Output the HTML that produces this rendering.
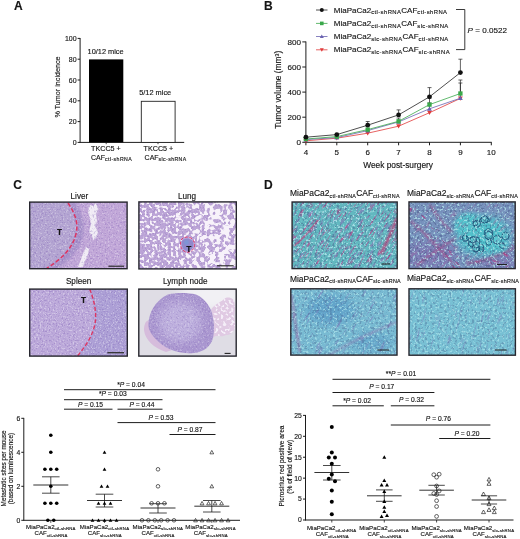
<!DOCTYPE html><html><head><meta charset="utf-8"><title>Figure</title><style>html,body{margin:0;padding:0;background:#fff}svg{display:block}text{font-family:"Liberation Sans",sans-serif;fill:#141414;stroke:#141414;stroke-width:0.14px}</style></head><body>
<svg width="520" height="539" viewBox="0 0 520 539">
<rect width="520" height="539" fill="#fff"/>
<defs>
<filter id="heW" x="0" y="0" width="100%" height="100%" color-interpolation-filters="sRGB"><feTurbulence type="fractalNoise" baseFrequency="0.6" numOctaves="2" seed="3"/><feColorMatrix type="matrix" values="0 0 0 0 1  0 0 0 0 1  0 0 0 0 1  5 0 0 0 -2.7"/></filter>
<filter id="heD" x="0" y="0" width="100%" height="100%" color-interpolation-filters="sRGB"><feTurbulence type="fractalNoise" baseFrequency="0.55" numOctaves="2" seed="12"/><feColorMatrix type="matrix" values="0 0 0 0 0.45  0 0 0 0 0.33  0 0 0 0 0.68  0 5 0 0 -2.7"/></filter>
<filter id="holeS" x="0" y="0" width="100%" height="100%" color-interpolation-filters="sRGB"><feTurbulence type="fractalNoise" baseFrequency="0.38" numOctaves="1" seed="4"/><feColorMatrix type="matrix" values="0 0 0 0 0.97  0 0 0 0 0.95  0 0 0 0 0.98  10 0 0 0 -5.3"/></filter>
<filter id="fibM" x="0" y="0" width="100%" height="100%" color-interpolation-filters="sRGB"><feTurbulence type="fractalNoise" baseFrequency="0.09 0.6" numOctaves="2" seed="5"/><feColorMatrix type="matrix" values="0 0 0 0 0.7  0 0 0 0 0.34  0 0 0 0 0.58  7 0 0 0 -4.0"/></filter>
<filter id="fibM2" x="0" y="0" width="100%" height="100%" color-interpolation-filters="sRGB"><feTurbulence type="fractalNoise" baseFrequency="0.08 0.55" numOctaves="2" seed="21"/><feColorMatrix type="matrix" values="0 0 0 0 0.72  0 0 0 0 0.25  0 0 0 0 0.52  7 0 0 0 -4.2"/></filter>
<filter id="fibB" x="0" y="0" width="100%" height="100%" color-interpolation-filters="sRGB"><feTurbulence type="fractalNoise" baseFrequency="0.1 0.55" numOctaves="2" seed="9"/><feColorMatrix type="matrix" values="0 0 0 0 0.5  0 0 0 0 0.5  0 0 0 0 0.72  0 7 0 0 -3.85"/></filter>
<filter id="fibP" x="0" y="0" width="100%" height="100%" color-interpolation-filters="sRGB"><feTurbulence type="fractalNoise" baseFrequency="0.06 0.45" numOctaves="2" seed="14"/><feColorMatrix type="matrix" values="0 0 0 0 0.5  0 0 0 0 0.45  0 0 0 0 0.72  0 6 0 0 -3.6"/></filter>
<filter id="spk" x="0" y="0" width="100%" height="100%" color-interpolation-filters="sRGB"><feTurbulence type="fractalNoise" baseFrequency="0.45" numOctaves="2" seed="2"/><feColorMatrix type="matrix" values="0 0 0 0 0.72  0 0 0 0 0.93  0 0 0 0 0.94  0 0 6 0 -3.3"/></filter>
<filter id="dkB" x="0" y="0" width="100%" height="100%" color-interpolation-filters="sRGB"><feTurbulence type="fractalNoise" baseFrequency="0.4" numOctaves="2" seed="17"/><feColorMatrix type="matrix" values="0 0 0 0 0.24  0 0 0 0 0.32  0 0 0 0 0.5  7 0 0 0 -3.8"/></filter>
<filter id="b1"><feGaussianBlur stdDeviation="1"/></filter><filter id="b2"><feGaussianBlur stdDeviation="2.2"/></filter><filter id="b3"><feGaussianBlur stdDeviation="4"/></filter><filter id="b05"><feGaussianBlur stdDeviation="0.5"/></filter>
<filter id="holeG" x="0" y="0" width="100%" height="100%" color-interpolation-filters="sRGB"><feTurbulence type="fractalNoise" baseFrequency="0.2" numOctaves="1" seed="8"/><feColorMatrix type="matrix" values="0 1 0 0 0  0 1 0 0 0  0 1 0 0 0  0 0 0 0 1" result="n"/><feComposite in="n" in2="SourceGraphic" operator="arithmetic" k1="0" k2="1" k3="1" k4="-0.5"/><feColorMatrix type="matrix" values="0 0 0 0 0.97  0 0 0 0 0.95  0 0 0 0 0.98  14 0 0 0 -7"/></filter>
<linearGradient id="gb" x1="0" x2="1" y1="0" y2="0"><stop offset="0" stop-color="#4c4c4c"/><stop offset="0.35" stop-color="#626262"/><stop offset="0.7" stop-color="#808080"/><stop offset="1" stop-color="#868686"/></linearGradient>
</defs>
<text x="14.1" y="9.8" font-size="12" text-anchor="start" font-weight="bold" fill="#000">A</text>
<text x="263.9" y="9.8" font-size="12" text-anchor="start" font-weight="bold" fill="#000">B</text>
<text x="13.2" y="188.8" font-size="12" text-anchor="start" font-weight="bold" fill="#000">C</text>
<text x="263.9" y="188.8" font-size="12" text-anchor="start" font-weight="bold" fill="#000">D</text>
<line x1="80.1" y1="38.0" x2="80.1" y2="142.8" stroke="#1c1c1c" stroke-width="1.0"/>
<line x1="79.69999999999999" y1="142.4" x2="184.2" y2="142.4" stroke="#1c1c1c" stroke-width="1.0"/>
<line x1="106.2" y1="142.4" x2="106.2" y2="144.20000000000002" stroke="#1c1c1c" stroke-width="0.8"/>
<line x1="158" y1="142.4" x2="158" y2="144.20000000000002" stroke="#1c1c1c" stroke-width="0.8"/>
<line x1="77.6" y1="142.4" x2="80.1" y2="142.4" stroke="#1c1c1c" stroke-width="1.0"/>
<text x="76.6" y="144.9" font-size="7" text-anchor="end" >0</text>
<line x1="77.6" y1="121.60000000000001" x2="80.1" y2="121.60000000000001" stroke="#1c1c1c" stroke-width="1.0"/>
<text x="76.6" y="124.10000000000001" font-size="7" text-anchor="end" >20</text>
<line x1="77.6" y1="100.80000000000001" x2="80.1" y2="100.80000000000001" stroke="#1c1c1c" stroke-width="1.0"/>
<text x="76.6" y="103.30000000000001" font-size="7" text-anchor="end" >40</text>
<line x1="77.6" y1="80.0" x2="80.1" y2="80.0" stroke="#1c1c1c" stroke-width="1.0"/>
<text x="76.6" y="82.5" font-size="7" text-anchor="end" >60</text>
<line x1="77.6" y1="59.2" x2="80.1" y2="59.2" stroke="#1c1c1c" stroke-width="1.0"/>
<text x="76.6" y="61.7" font-size="7" text-anchor="end" >80</text>
<line x1="77.6" y1="38.400000000000006" x2="80.1" y2="38.400000000000006" stroke="#1c1c1c" stroke-width="1.0"/>
<text x="76.6" y="40.900000000000006" font-size="7" text-anchor="end" >100</text>
<rect x="89" y="59.4" width="34.3" height="83.0" fill="#000"/>
<rect x="141.3" y="101.3" width="33.8" height="41.10000000000001" fill="#fff" stroke="#222" stroke-width="0.9"/>
<text x="105.6" y="53.8" font-size="7.4" text-anchor="middle" >10/12 mice</text>
<text x="155.2" y="94.9" font-size="7.4" text-anchor="middle" >5/12 mice</text>
<text x="91" y="151" font-size="7.2" text-anchor="start" >TKCC5 +</text>
<text x="143.5" y="151" font-size="7.2" text-anchor="start" >TKCC5 +</text>
<text x="91" y="159.6" font-size="7" text-anchor="start" >CAF<tspan font-size="5.2" dy="1.6" letter-spacing="0.42">ctl-shRNA</tspan></text>
<text x="144.6" y="159.6" font-size="7" text-anchor="start" >CAF<tspan font-size="5.2" dy="1.6" letter-spacing="0.38">slc-shRNA</tspan></text>
<text transform="translate(60.3,87) rotate(-90)" font-size="7.2" text-anchor="middle">% Tumor incidence</text>
<line x1="305.9" y1="41.50000000000001" x2="305.9" y2="142.70000000000002" stroke="#1c1c1c" stroke-width="1.0"/>
<line x1="305.5" y1="142.3" x2="491.69999999999993" y2="142.3" stroke="#1c1c1c" stroke-width="1.0"/>
<line x1="302.29999999999995" y1="142.3" x2="305.9" y2="142.3" stroke="#1c1c1c" stroke-width="1.0"/>
<text x="300.9" y="145.15" font-size="8.1" text-anchor="end" >0</text>
<line x1="302.29999999999995" y1="117.20000000000002" x2="305.9" y2="117.20000000000002" stroke="#1c1c1c" stroke-width="1.0"/>
<text x="300.9" y="120.05000000000001" font-size="8.1" text-anchor="end" >200</text>
<line x1="302.29999999999995" y1="92.10000000000001" x2="305.9" y2="92.10000000000001" stroke="#1c1c1c" stroke-width="1.0"/>
<text x="300.9" y="94.95" font-size="8.1" text-anchor="end" >400</text>
<line x1="302.29999999999995" y1="67.0" x2="305.9" y2="67.0" stroke="#1c1c1c" stroke-width="1.0"/>
<text x="300.9" y="69.85" font-size="8.1" text-anchor="end" >600</text>
<line x1="302.29999999999995" y1="41.900000000000006" x2="305.9" y2="41.900000000000006" stroke="#1c1c1c" stroke-width="1.0"/>
<text x="300.9" y="44.75000000000001" font-size="8.1" text-anchor="end" >800</text>
<line x1="305.9" y1="142.3" x2="305.9" y2="145.3" stroke="#1c1c1c" stroke-width="1.0"/>
<text x="305.9" y="155.0" font-size="8.0" text-anchor="middle" >4</text>
<line x1="336.79999999999995" y1="142.3" x2="336.79999999999995" y2="145.3" stroke="#1c1c1c" stroke-width="1.0"/>
<text x="336.79999999999995" y="155.0" font-size="8.0" text-anchor="middle" >5</text>
<line x1="367.7" y1="142.3" x2="367.7" y2="145.3" stroke="#1c1c1c" stroke-width="1.0"/>
<text x="367.7" y="155.0" font-size="8.0" text-anchor="middle" >6</text>
<line x1="398.59999999999997" y1="142.3" x2="398.59999999999997" y2="145.3" stroke="#1c1c1c" stroke-width="1.0"/>
<text x="398.59999999999997" y="155.0" font-size="8.0" text-anchor="middle" >7</text>
<line x1="429.5" y1="142.3" x2="429.5" y2="145.3" stroke="#1c1c1c" stroke-width="1.0"/>
<text x="429.5" y="155.0" font-size="8.0" text-anchor="middle" >8</text>
<line x1="460.4" y1="142.3" x2="460.4" y2="145.3" stroke="#1c1c1c" stroke-width="1.0"/>
<text x="460.4" y="155.0" font-size="8.0" text-anchor="middle" >9</text>
<line x1="491.29999999999995" y1="142.3" x2="491.29999999999995" y2="145.3" stroke="#1c1c1c" stroke-width="1.0"/>
<text x="491.29999999999995" y="155.0" font-size="8.0" text-anchor="middle" >10</text>
<text x="398.09999999999997" y="168" font-size="8.35" text-anchor="middle" >Week post-surgery</text>
<text transform="translate(281.2,89.8) rotate(-90)" font-size="8.4" text-anchor="middle">Tumor volume (mm<tspan font-size="5.2" dy="-2.6">3</tspan><tspan dy="2.6">)</tspan></text>
<polyline points="305.9,140.8 336.8,138.2 367.7,133.2 398.6,126.2 429.5,112.7 460.4,98.4" fill="none" stroke="#e03a3a" stroke-width="0.8"/>
<polygon points="305.9,143.20000000000002 308.29999999999995,138.88000000000002 303.5,138.88000000000002" fill="#e03a3a"/>
<polygon points="336.79999999999995,140.6 339.19999999999993,136.28 334.4,136.28" fill="#e03a3a"/>
<polygon points="367.7,135.6 370.09999999999997,131.28 365.3,131.28" fill="#e03a3a"/>
<polygon points="398.59999999999997,128.6 400.99999999999994,124.28 396.2,124.28" fill="#e03a3a"/>
<polygon points="429.5,115.10000000000001 431.9,110.78 427.1,110.78" fill="#e03a3a"/>
<polygon points="460.4,100.80000000000001 462.79999999999995,96.48 458.0,96.48" fill="#e03a3a"/>
<polyline points="305.9,139.6 336.8,137.6 367.7,130.6 398.6,121.9 429.5,108.8 460.4,98.2" fill="none" stroke="#6a62b0" stroke-width="0.8"/>
<line x1="429.5" y1="108.8" x2="429.5" y2="103" stroke="#222" stroke-width="0.7"/>
<line x1="427.5" y1="103" x2="431.5" y2="103" stroke="#222" stroke-width="0.7"/>
<line x1="460.4" y1="98.2" x2="460.4" y2="83" stroke="#222" stroke-width="0.7"/>
<line x1="458.4" y1="83" x2="462.4" y2="83" stroke="#222" stroke-width="0.7"/>
<polygon points="305.9,137.2 308.29999999999995,141.51999999999998 303.5,141.51999999999998" fill="#6a62b0"/>
<polygon points="336.79999999999995,135.2 339.19999999999993,139.51999999999998 334.4,139.51999999999998" fill="#6a62b0"/>
<polygon points="367.7,128.2 370.09999999999997,132.51999999999998 365.3,132.51999999999998" fill="#6a62b0"/>
<polygon points="398.59999999999997,119.5 400.99999999999994,123.82000000000001 396.2,123.82000000000001" fill="#6a62b0"/>
<polygon points="429.5,106.39999999999999 431.9,110.72 427.1,110.72" fill="#6a62b0"/>
<polygon points="460.4,95.8 462.79999999999995,100.12 458.0,100.12" fill="#6a62b0"/>
<polyline points="305.9,139.0 336.8,136.6 367.7,129.6 398.6,121.3 429.5,104.6 460.4,93.5" fill="none" stroke="#3aa84a" stroke-width="0.8"/>
<line x1="398.59999999999997" y1="121.3" x2="398.59999999999997" y2="118" stroke="#222" stroke-width="0.7"/>
<line x1="396.59999999999997" y1="118" x2="400.59999999999997" y2="118" stroke="#222" stroke-width="0.7"/>
<line x1="429.5" y1="104.6" x2="429.5" y2="98" stroke="#222" stroke-width="0.7"/>
<line x1="427.5" y1="98" x2="431.5" y2="98" stroke="#222" stroke-width="0.7"/>
<line x1="460.4" y1="93.5" x2="460.4" y2="80" stroke="#222" stroke-width="0.7"/>
<line x1="458.4" y1="80" x2="462.4" y2="80" stroke="#222" stroke-width="0.7"/>
<rect x="303.73999999999995" y="136.84" width="4.32" height="4.32" fill="#3aa84a"/>
<rect x="334.63999999999993" y="134.44" width="4.32" height="4.32" fill="#3aa84a"/>
<rect x="365.53999999999996" y="127.44" width="4.32" height="4.32" fill="#3aa84a"/>
<rect x="396.43999999999994" y="119.14" width="4.32" height="4.32" fill="#3aa84a"/>
<rect x="427.34" y="102.44" width="4.32" height="4.32" fill="#3aa84a"/>
<rect x="458.23999999999995" y="91.34" width="4.32" height="4.32" fill="#3aa84a"/>
<polyline points="305.9,137.2 336.8,134.6 367.7,125.2 398.6,114.9 429.5,96.8 460.4,72.6" fill="none" stroke="#222" stroke-width="0.8"/>
<line x1="367.7" y1="125.2" x2="367.7" y2="121.5" stroke="#222" stroke-width="0.7"/>
<line x1="365.7" y1="121.5" x2="369.7" y2="121.5" stroke="#222" stroke-width="0.7"/>
<line x1="398.59999999999997" y1="114.9" x2="398.59999999999997" y2="109.9" stroke="#222" stroke-width="0.7"/>
<line x1="396.59999999999997" y1="109.9" x2="400.59999999999997" y2="109.9" stroke="#222" stroke-width="0.7"/>
<line x1="429.5" y1="96.8" x2="429.5" y2="87.6" stroke="#222" stroke-width="0.7"/>
<line x1="427.5" y1="87.6" x2="431.5" y2="87.6" stroke="#222" stroke-width="0.7"/>
<line x1="460.4" y1="72.6" x2="460.4" y2="59.2" stroke="#222" stroke-width="0.7"/>
<line x1="458.4" y1="59.2" x2="462.4" y2="59.2" stroke="#222" stroke-width="0.7"/>
<circle cx="305.9" cy="137.2" r="2.4" fill="#111"/>
<circle cx="336.79999999999995" cy="134.6" r="2.4" fill="#111"/>
<circle cx="367.7" cy="125.2" r="2.4" fill="#111"/>
<circle cx="398.59999999999997" cy="114.9" r="2.4" fill="#111"/>
<circle cx="429.5" cy="96.8" r="2.4" fill="#111"/>
<circle cx="460.4" cy="72.6" r="2.4" fill="#111"/>
<line x1="316" y1="10" x2="327.5" y2="10" stroke="#222" stroke-width="0.8"/>
<circle cx="321.8" cy="10" r="2.0" fill="#111"/>
<text x="333.8" y="12.6" font-size="8.0" text-anchor="start" >MiaPaCa2<tspan font-size="5.9" dy="1.8" letter-spacing="0.4">ctl-shRNA</tspan><tspan font-size="8.0" dy="-1.8">CAF</tspan><tspan font-size="5.9" dy="1.8" letter-spacing="0.4">ctl-shRNA</tspan></text>
<line x1="316" y1="23.4" x2="327.5" y2="23.4" stroke="#3aa84a" stroke-width="0.8"/>
<rect x="320.0" y="21.599999999999998" width="3.6" height="3.6" fill="#3aa84a"/>
<text x="333.8" y="26.0" font-size="8.0" text-anchor="start" >MiaPaCa2<tspan font-size="5.9" dy="1.8" letter-spacing="0.4">ctl-shRNA</tspan><tspan font-size="8.0" dy="-1.8">CAF</tspan><tspan font-size="5.9" dy="1.8" letter-spacing="0.4">slc-shRNA</tspan></text>
<line x1="316" y1="36.5" x2="327.5" y2="36.5" stroke="#6a62b0" stroke-width="0.8"/>
<polygon points="321.8,34.5 323.8,38.1 319.8,38.1" fill="#6a62b0"/>
<text x="333.8" y="39.1" font-size="8.0" text-anchor="start" >MiaPaCa2<tspan font-size="5.9" dy="1.8" letter-spacing="0.4">slc-shRNA</tspan><tspan font-size="8.0" dy="-1.8">CAF</tspan><tspan font-size="5.9" dy="1.8" letter-spacing="0.4">ctl-shRNA</tspan></text>
<line x1="316" y1="49.8" x2="327.5" y2="49.8" stroke="#e03a3a" stroke-width="0.8"/>
<polygon points="321.8,51.8 323.8,48.199999999999996 319.8,48.199999999999996" fill="#e03a3a"/>
<text x="333.8" y="52.4" font-size="8.0" text-anchor="start" >MiaPaCa2<tspan font-size="5.9" dy="1.8" letter-spacing="0.4">slc-shRNA</tspan><tspan font-size="8.0" dy="-1.8">CAF</tspan><tspan font-size="5.9" dy="1.8" letter-spacing="0.4">slc-shRNA</tspan></text>
<polyline points="456,9.5 464.8,9.5 464.8,49.6 456,49.6" fill="none" stroke="#222" stroke-width="0.9"/>
<text x="467.5" y="32.6" font-size="8.1" text-anchor="start" ><tspan font-style="italic">P</tspan> = 0.0522</text>
<clipPath id="cL"><rect x="29.7" y="202.1" width="97.4" height="66.6"/></clipPath>
<g clip-path="url(#cL)">
<rect x="29.7" y="202.1" width="97.4" height="66.6" fill="#c1a7d8"/>
<path d="M30,202 L68,202 C74,212 79,222 76,234 C72,250 60,260 47,270 L30,270 Z" fill="#b4a5d2"/>
<path d="M68,202 C74,212 79,222 76,234 C72,250 60,260 47,270 L56,270 C70,260 80,250 83,234 C85,220 80,210 76,202 Z" fill="#a893cb" filter="url(#b1)"/>
<path d="M90,205 L93,206 L96,203 L98,209 L96,214 L97,221 L95,226 L98,232 L96,238 L93,240 L92,235 L89,232 L91,224 L90,218 L88,212 Z" fill="#f0ebf5" filter="url(#b05)"/>
<path d="M86,247 L89,249 L88,254 L86,259 L84,263 L83,267 L78,267 L80,262 L82,256 Z" fill="#f0ebf5" filter="url(#b05)"/>
<rect x="29.7" y="202.1" width="97.4" height="66.6" filter="url(#heD)" opacity="0.3"/>
<rect x="29.7" y="202.1" width="97.4" height="66.6" filter="url(#heW)" opacity="0.3"/>
<path d="M68,203 C74,212 79,222 76,234 C72,250 60,260 47,268" fill="none" stroke="#dc3562" stroke-width="1.5" stroke-dasharray="4.2 2.2"/>
</g>
<rect x="29.7" y="202.1" width="97.4" height="66.6" fill="none" stroke="#26262e" stroke-width="1.4"/>
<text x="59.6" y="235" font-size="8.2" text-anchor="middle" font-weight="bold" fill="#111">T</text>
<line x1="108.4" y1="266.2" x2="124" y2="266.2" stroke="#222" stroke-width="1.1"/>
<text x="79.4" y="198.8" font-size="8.15" text-anchor="middle" >Liver</text>
<clipPath id="cLu"><rect x="138.9" y="201.9" width="97.4" height="67"/></clipPath>
<g clip-path="url(#cLu)">
<rect x="138.9" y="201.9" width="97.4" height="67" fill="#bca5d7"/>
<rect x="138.9" y="201.9" width="97.4" height="67" filter="url(#heD)" opacity="0.25"/>
<rect x="138.9" y="201.9" width="97.4" height="67" filter="url(#holeS)"/>
<rect x="138.9" y="201.9" width="97.4" height="67" fill="url(#gb)" filter="url(#holeG)"/>
<circle cx="187.3" cy="244.8" r="7" fill="#bca5d7"/>
<path d="M182,241 C184,237.5 190,237.5 192.5,241 C194.5,245 193,250 188,251 C183.5,251 180.5,246 182,241 Z" fill="#8f89cc"/>
<circle cx="186.5" cy="242.5" r="2.4" fill="#7f94d4"/>
<path d="M181,240 C183.5,236 191,236 193.5,240.5 C196,245 194,251.5 188,252.3 C183,252.3 179,247 181,240 Z" fill="none" stroke="#e23d6b" stroke-width="1" stroke-dasharray="3 1.6"/>
</g>
<rect x="138.9" y="201.9" width="97.4" height="67" fill="none" stroke="#26262e" stroke-width="1.4"/>
<text x="188.8" y="251.6" font-size="8.4" text-anchor="middle" font-weight="bold" fill="#0a0a30">T</text>
<line x1="217" y1="265.8" x2="233.6" y2="265.8" stroke="#222" stroke-width="1.1"/>
<text x="187" y="198.8" font-size="8.15" text-anchor="middle" >Lung</text>
<clipPath id="cS"><rect x="29.7" y="289.1" width="97.6" height="67"/></clipPath>
<g clip-path="url(#cS)">
<rect x="29.7" y="289.1" width="97.6" height="67" fill="#ada0d6"/>
<path d="M29,288 L89.7,288 C94,300 97,312 95,324 C92,338 84,348 77,357 L29,357 Z" fill="#bca9da"/>
<rect x="29.7" y="289.1" width="97.6" height="67" filter="url(#heD)" opacity="0.3"/>
<rect x="29.7" y="289.1" width="97.6" height="67" filter="url(#heW)" opacity="0.35"/>
<path d="M89.7,289 C94,300 97,312 95,324 C92,338 84,348 77,356.5" fill="none" stroke="#dc3562" stroke-width="1.4" stroke-dasharray="4 2.2"/>
</g>
<rect x="29.7" y="289.1" width="97.6" height="67" fill="none" stroke="#26262e" stroke-width="1.4"/>
<text x="83.6" y="302.6" font-size="8.2" text-anchor="middle" font-weight="bold" fill="#111">T</text>
<line x1="107.4" y1="352.7" x2="124" y2="352.7" stroke="#333" stroke-width="1.3"/>
<text x="78.6" y="284.3" font-size="8.15" text-anchor="middle" >Spleen</text>
<clipPath id="cN"><rect x="138.8" y="289.1" width="97.4" height="67"/></clipPath>
<clipPath id="cNode"><path d="M148.4,324 C149,312 156,300 168,294.5 C176,292.5 188,292.5 196,294.5 C203,297 208,304 211,310 C214,318 215,330 213,338 C211,346 204,352 194,353 C182,354.5 168,350 160,343 C152,336 148,330 148.4,324 Z"/></clipPath><clipPath id="cPink"><path d="M211,310 C214,304 220,303 224,299 C228,296 235,298 234.5,304 C236,310 233,316 235,322 C236,330 231,336 226,335 C221,338 216,334 213,338 C215,330 214,318 211,310 Z"/></clipPath>
<g clip-path="url(#cN)">
<rect x="138.8" y="289.1" width="97.4" height="67" fill="#dfdde5"/>
<ellipse cx="212" cy="296" rx="34" ry="14" fill="#f1f0f4" filter="url(#b3)"/>
<path d="M144,330 C144,322 148,318 150,322 C152,334 160,344 172,350 L166,352 C154,348 145,340 144,330 Z" fill="#d6bcdc" filter="url(#b05)"/>
<path d="M211,310 C214,304 220,303 224,299 C228,296 235,298 234.5,304 C236,310 233,316 235,322 C236,330 231,336 226,335 C221,338 216,334 213,338 C215,330 214,318 211,310 Z" fill="#e0cae3" filter="url(#b05)"/>
<rect x="208" y="294" width="30" height="46" filter="url(#holeS)" clip-path="url(#cPink)" opacity="0.9"/>
<path d="M148.4,324 C149,312 156,300 168,294.5 C176,292.5 188,292.5 196,294.5 C203,297 208,304 211,310 C214,318 215,330 213,338 C211,346 204,352 194,353 C182,354.5 168,350 160,343 C152,336 148,330 148.4,324 Z" fill="#aa97d0"/>
<ellipse cx="180" cy="322" rx="21" ry="20" fill="#beb0de" filter="url(#b3)"/>
<rect x="146" y="290" width="72" height="66" filter="url(#heD)" opacity="0.25" clip-path="url(#cNode)"/>
<rect x="146" y="290" width="72" height="66" filter="url(#heW)" opacity="0.25" clip-path="url(#cNode)"/>
</g>
<rect x="138.8" y="289.1" width="97.4" height="67" fill="none" stroke="#26262e" stroke-width="1.4"/>
<line x1="224.6" y1="353.4" x2="230.6" y2="353.4" stroke="#222" stroke-width="1.1"/>
<text x="185.3" y="284.2" font-size="8.15" text-anchor="middle" >Lymph node</text>
<clipPath id="cD1"><rect x="292.1" y="202" width="105.1" height="66.6"/></clipPath>
<g clip-path="url(#cD1)">
<rect x="292.1" y="202" width="105.1" height="66.6" fill="#62b8c0"/>
<rect x="254.65000000000003" y="145.3" width="180" height="180" filter="url(#fibB)" opacity="0.75" transform="rotate(-58 344.65000000000003 235.3)"/>
<rect x="254.65000000000003" y="145.3" width="180" height="180" filter="url(#fibM)" opacity="0.85" transform="rotate(-56 344.65000000000003 235.3)"/>
<path d="M397,218 C392,232 388,240 381,254" stroke="#c93a78" stroke-width="3.4" fill="none" opacity="0.8" filter="url(#b1)"/>
<path d="M294,246 C304,238 312,228 318,220" stroke="#c2467f" stroke-width="2" fill="none" opacity="0.7" filter="url(#b05)"/>
<rect x="292.1" y="202" width="105.1" height="66.6" filter="url(#dkB)" opacity="0.4"/>
<rect x="292.1" y="202" width="105.1" height="66.6" filter="url(#spk)" opacity="0.75"/>
</g>
<rect x="292.1" y="202" width="105.1" height="66.6" fill="none" stroke="#26262e" stroke-width="1.4"/>
<line x1="381.5" y1="264" x2="390" y2="264" stroke="#222" stroke-width="1.0"/>
<text x="290" y="196" font-size="8.45" text-anchor="start" >MiaPaCa2<tspan font-size="5.4" dy="1.8" letter-spacing="0.28">ctl-shRNA</tspan><tspan font-size="8.45" dy="-1.8">CAF</tspan><tspan font-size="5.4" dy="1.8" letter-spacing="0.28">ctl-shRNA</tspan></text>
<clipPath id="cD2"><rect x="409" y="201.9" width="106.2" height="66.7"/></clipPath>
<clipPath id="cD2b"><path d="M408,215 L452,268 L516,270 L516,240 L500,256 L470,262 L450,240 L425,214 L408,203 Z"/></clipPath>
<g clip-path="url(#cD2)">
<rect x="409" y="201.9" width="106.2" height="66.7" fill="#7893be"/>
<ellipse cx="430" cy="255" rx="26" ry="14" fill="#7f78b4" filter="url(#b3)" opacity="0.8"/>
<ellipse cx="500" cy="262" rx="22" ry="9" fill="#7f78b4" filter="url(#b3)" opacity="0.7"/>
<ellipse cx="483" cy="236" rx="27" ry="20" fill="#4fbfca" filter="url(#b3)"/>
<ellipse cx="468" cy="224" rx="14" ry="11" fill="#52c2cc" filter="url(#b2)"/><ellipse cx="496" cy="246" rx="13" ry="8" fill="#52c2cc" filter="url(#b2)" opacity="0.8"/>
<g clip-path="url(#cD2b)">
<rect x="372.1" y="145.25" width="180" height="180" filter="url(#fibM2)" opacity="0.8" transform="rotate(45 462.1 235.25)"/>
</g>
<rect x="372.1" y="145.25" width="180" height="180" filter="url(#fibM)" opacity="0.3" transform="rotate(-50 462.1 235.25)"/>
<circle cx="476.9" cy="223.7" r="3.6" fill="#6ad2d8" fill-opacity="0.5" stroke="#17466e" stroke-width="0.9" opacity="0.9"/>
<circle cx="465.3" cy="238.4" r="2.9" fill="#6ad2d8" fill-opacity="0.5" stroke="#17466e" stroke-width="0.9" opacity="0.9"/>
<circle cx="464.7" cy="237.3" r="2.1" fill="#6ad2d8" fill-opacity="0.5" stroke="#17466e" stroke-width="0.9" opacity="0.9"/>
<circle cx="481.9" cy="220.7" r="2.2" fill="#6ad2d8" fill-opacity="0.5" stroke="#17466e" stroke-width="0.9" opacity="0.9"/>
<circle cx="481.5" cy="249.4" r="2.3" fill="#6ad2d8" fill-opacity="0.5" stroke="#17466e" stroke-width="0.9" opacity="0.9"/>
<circle cx="472.3" cy="241.8" r="4.3" fill="#6ad2d8" fill-opacity="0.5" stroke="#17466e" stroke-width="0.9" opacity="0.9"/>
<circle cx="488.5" cy="233.1" r="4.3" fill="#6ad2d8" fill-opacity="0.5" stroke="#17466e" stroke-width="0.9" opacity="0.9"/>
<circle cx="475.3" cy="223.5" r="2.3" fill="#6ad2d8" fill-opacity="0.5" stroke="#17466e" stroke-width="0.9" opacity="0.9"/>
<circle cx="476.2" cy="249.0" r="2.4" fill="#6ad2d8" fill-opacity="0.5" stroke="#17466e" stroke-width="0.9" opacity="0.9"/>
<circle cx="488.8" cy="242.3" r="2.9" fill="#6ad2d8" fill-opacity="0.5" stroke="#17466e" stroke-width="0.9" opacity="0.9"/>
<circle cx="487.2" cy="220.4" r="2.1" fill="#6ad2d8" fill-opacity="0.5" stroke="#17466e" stroke-width="0.9" opacity="0.9"/>
<circle cx="471.5" cy="243.9" r="3.0" fill="#6ad2d8" fill-opacity="0.5" stroke="#17466e" stroke-width="0.9" opacity="0.9"/>
<circle cx="476.5" cy="240.3" r="3.1" fill="#6ad2d8" fill-opacity="0.5" stroke="#17466e" stroke-width="0.9" opacity="0.9"/>
<circle cx="475.8" cy="248.2" r="3.7" fill="#6ad2d8" fill-opacity="0.5" stroke="#17466e" stroke-width="0.9" opacity="0.9"/>
<circle cx="473.2" cy="239.8" r="3.3" fill="#6ad2d8" fill-opacity="0.5" stroke="#17466e" stroke-width="0.9" opacity="0.9"/>
<circle cx="502.3" cy="245.7" r="2.7" fill="#6ad2d8" fill-opacity="0.5" stroke="#17466e" stroke-width="0.9" opacity="0.9"/>
<circle cx="481.2" cy="246.8" r="2.4" fill="#6ad2d8" fill-opacity="0.5" stroke="#17466e" stroke-width="0.9" opacity="0.9"/>
<circle cx="484.5" cy="219.5" r="3.6" fill="#6ad2d8" fill-opacity="0.5" stroke="#17466e" stroke-width="0.9" opacity="0.9"/>
<circle cx="497.2" cy="239.8" r="4.1" fill="#6ad2d8" fill-opacity="0.5" stroke="#17466e" stroke-width="0.9" opacity="0.9"/>
<circle cx="476.4" cy="244.4" r="3.4" fill="#6ad2d8" fill-opacity="0.5" stroke="#17466e" stroke-width="0.9" opacity="0.9"/>
<circle cx="488.7" cy="235.3" r="4.0" fill="#6ad2d8" fill-opacity="0.5" stroke="#17466e" stroke-width="0.9" opacity="0.9"/>
<circle cx="505.5" cy="236.0" r="3.6" fill="#6ad2d8" fill-opacity="0.5" stroke="#17466e" stroke-width="0.9" opacity="0.9"/>
<path d="M410,221 C420,228 432,240 452,263 M416,266 C428,256 440,248 456,238 M466,264 C480,262 496,258 514,248 M430,205 C436,214 440,222 452,232" stroke="#a84884" stroke-width="2.2" fill="none" opacity="0.6" filter="url(#b1)"/>
<rect x="409" y="201.9" width="106.2" height="66.7" filter="url(#dkB)" opacity="0.42"/>
<rect x="409" y="201.9" width="106.2" height="66.7" filter="url(#spk)" opacity="0.7"/>
</g>
<rect x="409" y="201.9" width="106.2" height="66.7" fill="none" stroke="#26262e" stroke-width="1.4"/>
<line x1="497" y1="264.5" x2="507" y2="264.5" stroke="#222" stroke-width="1.0"/>
<text x="407" y="196" font-size="8.45" text-anchor="start" >MiaPaCa2<tspan font-size="5.4" dy="1.8" letter-spacing="0.28">slc-shRNA</tspan><tspan font-size="8.45" dy="-1.8">CAF</tspan><tspan font-size="5.4" dy="1.8" letter-spacing="0.28">ctl-shRNA</tspan></text>
<clipPath id="cD3"><rect x="290.8" y="288.8" width="106.2" height="66.3"/></clipPath>
<g clip-path="url(#cD3)">
<rect x="290.8" y="288.8" width="106.2" height="66.3" fill="#78bad2"/>
<ellipse cx="330" cy="310" rx="24" ry="15" fill="#5a9cc8" filter="url(#b3)" opacity="0.7"/>
<ellipse cx="372" cy="342" rx="20" ry="10" fill="#5a9cc8" filter="url(#b3)" opacity="0.5"/>
<rect x="253.90000000000003" y="231.95" width="180" height="180" filter="url(#fibP)" opacity="0.55" transform="rotate(-60 343.90000000000003 321.95)"/>
<path d="M291,294 C294,310 296,330 300,352" stroke="#a868a4" stroke-width="2.6" fill="none" opacity="0.55" filter="url(#b1)"/>
<path d="M328,356 C345,345 365,335 397,322" stroke="#a070ac" stroke-width="2.2" fill="none" opacity="0.45" filter="url(#b1)"/>
<rect x="290.8" y="288.8" width="106.2" height="66.3" filter="url(#dkB)" opacity="0.3"/>
<rect x="290.8" y="288.8" width="106.2" height="66.3" filter="url(#spk)" opacity="0.6"/>
</g>
<rect x="290.8" y="288.8" width="106.2" height="66.3" fill="none" stroke="#26262e" stroke-width="1.4"/>
<line x1="377.4" y1="350" x2="389" y2="350" stroke="#222" stroke-width="1.0"/>
<text x="289.9" y="281.5" font-size="8.45" text-anchor="start" >MiaPaCa2<tspan font-size="5.4" dy="1.8" letter-spacing="0.28">ctl-shRNA</tspan><tspan font-size="8.45" dy="-1.8">CAF</tspan><tspan font-size="5.4" dy="1.8" letter-spacing="0.28">slc-shRNA</tspan></text>
<clipPath id="cD4"><rect x="409" y="288.8" width="106.4" height="66.4"/></clipPath>
<g clip-path="url(#cD4)">
<rect x="409" y="288.8" width="106.4" height="66.4" fill="#78c0d4"/>
<rect x="372.2" y="232.0" width="180" height="180" filter="url(#fibP)" opacity="0.45" transform="rotate(-75 462.2 322.0)"/>
<rect x="409" y="288.8" width="106.4" height="66.4" filter="url(#dkB)" opacity="0.3"/>
<rect x="409" y="288.8" width="106.4" height="66.4" filter="url(#spk)" opacity="0.6"/>
</g>
<rect x="409" y="288.8" width="106.4" height="66.4" fill="none" stroke="#26262e" stroke-width="1.4"/>
<line x1="495" y1="350" x2="506.6" y2="350" stroke="#222" stroke-width="1.0"/>
<text x="407" y="281" font-size="8.45" text-anchor="start" >MiaPaCa2<tspan font-size="5.4" dy="1.8" letter-spacing="0.28">slc-shRNA</tspan><tspan font-size="8.45" dy="-1.8">CAF</tspan><tspan font-size="5.4" dy="1.8" letter-spacing="0.28">slc-shRNA</tspan></text>
<line x1="23.8" y1="417.9" x2="23.8" y2="520.6999999999999" stroke="#1c1c1c" stroke-width="1.0"/>
<line x1="23.400000000000002" y1="520.3" x2="240" y2="520.3" stroke="#1c1c1c" stroke-width="1.0"/>
<line x1="21.3" y1="520.3" x2="23.8" y2="520.3" stroke="#1c1c1c" stroke-width="1.0"/>
<text x="20.2" y="522.6999999999999" font-size="6.8" text-anchor="end" >0</text>
<line x1="21.3" y1="486.29999999999995" x2="23.8" y2="486.29999999999995" stroke="#1c1c1c" stroke-width="1.0"/>
<text x="20.2" y="488.69999999999993" font-size="6.8" text-anchor="end" >2</text>
<line x1="21.3" y1="452.29999999999995" x2="23.8" y2="452.29999999999995" stroke="#1c1c1c" stroke-width="1.0"/>
<text x="20.2" y="454.69999999999993" font-size="6.8" text-anchor="end" >4</text>
<line x1="21.3" y1="418.29999999999995" x2="23.8" y2="418.29999999999995" stroke="#1c1c1c" stroke-width="1.0"/>
<text x="20.2" y="420.69999999999993" font-size="6.8" text-anchor="end" >6</text>
<text transform="translate(6.2,468.4) rotate(-90)" font-size="6.4" text-anchor="middle">Metastatic sites per mouse</text>
<text transform="translate(13.2,468.6) rotate(-90)" font-size="6.4" text-anchor="middle">(based on luminescence)</text>
<line x1="50.8" y1="520.3" x2="50.8" y2="522.8" stroke="#1c1c1c" stroke-width="0.8"/>
<line x1="104.5" y1="520.3" x2="104.5" y2="522.8" stroke="#1c1c1c" stroke-width="0.8"/>
<line x1="158" y1="520.3" x2="158" y2="522.8" stroke="#1c1c1c" stroke-width="0.8"/>
<line x1="211.8" y1="520.3" x2="211.8" y2="522.8" stroke="#1c1c1c" stroke-width="0.8"/>
<line x1="33.3" y1="485" x2="68.3" y2="485" stroke="#1c1c1c" stroke-width="0.9"/>
<line x1="50.8" y1="476.8" x2="50.8" y2="493.2" stroke="#1c1c1c" stroke-width="0.8"/>
<line x1="42.0" y1="476.8" x2="59.599999999999994" y2="476.8" stroke="#1c1c1c" stroke-width="0.8"/>
<line x1="42.0" y1="493.2" x2="59.599999999999994" y2="493.2" stroke="#1c1c1c" stroke-width="0.8"/>
<line x1="87.0" y1="500.5" x2="122.0" y2="500.5" stroke="#1c1c1c" stroke-width="0.9"/>
<line x1="104.5" y1="494.2" x2="104.5" y2="507" stroke="#1c1c1c" stroke-width="0.8"/>
<line x1="95.7" y1="494.2" x2="113.3" y2="494.2" stroke="#1c1c1c" stroke-width="0.8"/>
<line x1="95.7" y1="507" x2="113.3" y2="507" stroke="#1c1c1c" stroke-width="0.8"/>
<line x1="140.5" y1="508" x2="175.5" y2="508" stroke="#1c1c1c" stroke-width="0.9"/>
<line x1="158" y1="503.7" x2="158" y2="513" stroke="#1c1c1c" stroke-width="0.8"/>
<line x1="149.2" y1="503.7" x2="166.8" y2="503.7" stroke="#1c1c1c" stroke-width="0.8"/>
<line x1="149.2" y1="513" x2="166.8" y2="513" stroke="#1c1c1c" stroke-width="0.8"/>
<line x1="194.3" y1="506.2" x2="229.3" y2="506.2" stroke="#1c1c1c" stroke-width="0.9"/>
<line x1="211.8" y1="500.5" x2="211.8" y2="512" stroke="#1c1c1c" stroke-width="0.8"/>
<line x1="203.0" y1="500.5" x2="220.60000000000002" y2="500.5" stroke="#1c1c1c" stroke-width="0.8"/>
<line x1="203.0" y1="512" x2="220.60000000000002" y2="512" stroke="#1c1c1c" stroke-width="0.8"/>
<circle cx="50.8" cy="435.29999999999995" r="1.8" fill="#000"/>
<circle cx="50.8" cy="452.29999999999995" r="1.8" fill="#000"/>
<circle cx="44.9" cy="469.29999999999995" r="1.8" fill="#000"/>
<circle cx="50.8" cy="469.29999999999995" r="1.8" fill="#000"/>
<circle cx="56.7" cy="469.29999999999995" r="1.8" fill="#000"/>
<circle cx="50.8" cy="486.29999999999995" r="1.8" fill="#000"/>
<circle cx="44.9" cy="503.29999999999995" r="1.8" fill="#000"/>
<circle cx="50.8" cy="503.29999999999995" r="1.8" fill="#000"/>
<circle cx="56.7" cy="503.29999999999995" r="1.8" fill="#000"/>
<circle cx="47.85" cy="520.3" r="1.8" fill="#000"/>
<circle cx="53.75" cy="520.3" r="1.8" fill="#000"/>
<polygon points="104.5,450.40999999999997 106.39,453.8299999999999 102.61,453.8299999999999" fill="#000"/>
<polygon points="104.5,467.40999999999997 106.39,470.8299999999999 102.61,470.8299999999999" fill="#000"/>
<polygon points="101.5,484.40999999999997 103.39,487.8299999999999 99.61,487.8299999999999" fill="#000"/>
<polygon points="107.5,484.40999999999997 109.39,487.8299999999999 105.61,487.8299999999999" fill="#000"/>
<polygon points="98.5,501.40999999999997 100.39,504.8299999999999 96.61,504.8299999999999" fill="#000"/>
<polygon points="104.5,501.40999999999997 106.39,504.8299999999999 102.61,504.8299999999999" fill="#000"/>
<polygon points="110.5,501.40999999999997 112.39,504.8299999999999 108.61,504.8299999999999" fill="#000"/>
<polygon points="92.5,518.41 94.39,521.8299999999999 90.61,521.8299999999999" fill="#000"/>
<polygon points="98.5,518.41 100.39,521.8299999999999 96.61,521.8299999999999" fill="#000"/>
<polygon points="104.5,518.41 106.39,521.8299999999999 102.61,521.8299999999999" fill="#000"/>
<polygon points="110.5,518.41 112.39,521.8299999999999 108.61,521.8299999999999" fill="#000"/>
<polygon points="116.5,518.41 118.39,521.8299999999999 114.61,521.8299999999999" fill="#000"/>
<circle cx="158.0" cy="469.29999999999995" r="1.8" fill="none" stroke="#222" stroke-width="0.7"/>
<circle cx="158.0" cy="486.29999999999995" r="1.8" fill="none" stroke="#222" stroke-width="0.7"/>
<circle cx="151.6" cy="503.29999999999995" r="1.8" fill="none" stroke="#222" stroke-width="0.7"/>
<circle cx="158.0" cy="503.29999999999995" r="1.8" fill="none" stroke="#222" stroke-width="0.7"/>
<circle cx="164.4" cy="503.29999999999995" r="1.8" fill="none" stroke="#222" stroke-width="0.7"/>
<circle cx="142.0" cy="520.3" r="1.8" fill="none" stroke="#222" stroke-width="0.7"/>
<circle cx="148.4" cy="520.3" r="1.8" fill="none" stroke="#222" stroke-width="0.7"/>
<circle cx="154.8" cy="520.3" r="1.8" fill="none" stroke="#222" stroke-width="0.7"/>
<circle cx="161.2" cy="520.3" r="1.8" fill="none" stroke="#222" stroke-width="0.7"/>
<circle cx="167.6" cy="520.3" r="1.8" fill="none" stroke="#222" stroke-width="0.7"/>
<circle cx="174.0" cy="520.3" r="1.8" fill="none" stroke="#222" stroke-width="0.7"/>
<polygon points="211.8,450.40999999999997 213.69,453.8299999999999 209.91000000000003,453.8299999999999" fill="none" stroke="#222" stroke-width="0.7"/>
<polygon points="211.8,484.40999999999997 213.69,487.8299999999999 209.91000000000003,487.8299999999999" fill="none" stroke="#222" stroke-width="0.7"/>
<polygon points="202.05,501.40999999999997 203.94,504.8299999999999 200.16000000000003,504.8299999999999" fill="none" stroke="#222" stroke-width="0.7"/>
<polygon points="208.55,501.40999999999997 210.44,504.8299999999999 206.66000000000003,504.8299999999999" fill="none" stroke="#222" stroke-width="0.7"/>
<polygon points="215.05,501.40999999999997 216.94,504.8299999999999 213.16000000000003,504.8299999999999" fill="none" stroke="#222" stroke-width="0.7"/>
<polygon points="221.55,501.40999999999997 223.44,504.8299999999999 219.66000000000003,504.8299999999999" fill="none" stroke="#222" stroke-width="0.7"/>
<polygon points="195.55,518.41 197.44,521.8299999999999 193.66000000000003,521.8299999999999" fill="none" stroke="#222" stroke-width="0.7"/>
<polygon points="202.05,518.41 203.94,521.8299999999999 200.16000000000003,521.8299999999999" fill="none" stroke="#222" stroke-width="0.7"/>
<polygon points="208.55,518.41 210.44,521.8299999999999 206.66000000000003,521.8299999999999" fill="none" stroke="#222" stroke-width="0.7"/>
<polygon points="215.05,518.41 216.94,521.8299999999999 213.16000000000003,521.8299999999999" fill="none" stroke="#222" stroke-width="0.7"/>
<polygon points="221.55,518.41 223.44,521.8299999999999 219.66000000000003,521.8299999999999" fill="none" stroke="#222" stroke-width="0.7"/>
<polygon points="228.05,518.41 229.94,521.8299999999999 226.16000000000003,521.8299999999999" fill="none" stroke="#222" stroke-width="0.7"/>
<text x="50.8" y="528.7" font-size="6.1" text-anchor="middle" >MiaPaCa2<tspan font-size="4.3" dy="1.5" letter-spacing="0.18">ctl-shRNA</tspan></text>
<text x="51.099999999999994" y="535.1" font-size="6.1" text-anchor="middle" >CAF<tspan font-size="4.3" dy="1.5" letter-spacing="0.18">ctl-shRNA</tspan></text>
<text x="104.5" y="528.7" font-size="6.1" text-anchor="middle" >MiaPaCa2<tspan font-size="4.3" dy="1.5" letter-spacing="0.18">ctl-shRNA</tspan></text>
<text x="104.8" y="535.1" font-size="6.1" text-anchor="middle" >CAF<tspan font-size="4.3" dy="1.5" letter-spacing="0.18">slc-shRNA</tspan></text>
<text x="157.8" y="528.7" font-size="6.1" text-anchor="middle" >MiaPaCa2<tspan font-size="4.3" dy="1.5" letter-spacing="0.18">slc-shRNA</tspan></text>
<text x="158.10000000000002" y="535.1" font-size="6.1" text-anchor="middle" >CAF<tspan font-size="4.3" dy="1.5" letter-spacing="0.18">ctl-shRNA</tspan></text>
<text x="210.5" y="528.7" font-size="6.1" text-anchor="middle" >MiaPaCa2<tspan font-size="4.3" dy="1.5" letter-spacing="0.18">slc-shRNA</tspan></text>
<text x="210.8" y="535.1" font-size="6.1" text-anchor="middle" >CAF<tspan font-size="4.3" dy="1.5" letter-spacing="0.18">slc-shRNA</tspan></text>
<line x1="64" y1="389.7" x2="215.5" y2="389.7" stroke="#1c1c1c" stroke-width="1.0"/>
<text x="131" y="386.6" font-size="6.7" text-anchor="middle" >*<tspan font-style="italic">P</tspan> = 0.04</text>
<line x1="64" y1="399.7" x2="162.5" y2="399.7" stroke="#1c1c1c" stroke-width="1.0"/>
<text x="112.8" y="396.3" font-size="6.7" text-anchor="middle" >*<tspan font-style="italic">P</tspan> = 0.03</text>
<line x1="64" y1="409.2" x2="112.5" y2="409.2" stroke="#1c1c1c" stroke-width="1.0"/>
<text x="90.5" y="406.8" font-size="6.7" text-anchor="middle" ><tspan font-style="italic">P</tspan> = 0.15</text>
<line x1="117.5" y1="409.2" x2="162.5" y2="409.2" stroke="#1c1c1c" stroke-width="1.0"/>
<text x="142" y="407.4" font-size="6.7" text-anchor="middle" ><tspan font-style="italic">P</tspan> = 0.44</text>
<line x1="117.5" y1="422.6" x2="215.5" y2="422.6" stroke="#1c1c1c" stroke-width="1.0"/>
<text x="161" y="420" font-size="6.7" text-anchor="middle" ><tspan font-style="italic">P</tspan> = 0.53</text>
<line x1="169.5" y1="434.5" x2="215.5" y2="434.5" stroke="#1c1c1c" stroke-width="1.0"/>
<text x="190" y="432" font-size="6.7" text-anchor="middle" ><tspan font-style="italic">P</tspan> = 0.87</text>
<line x1="305.5" y1="414.975" x2="305.5" y2="520.4" stroke="#1c1c1c" stroke-width="1.0"/>
<line x1="305.1" y1="520" x2="513.5" y2="520" stroke="#1c1c1c" stroke-width="1.0"/>
<line x1="303.0" y1="520.0" x2="305.5" y2="520.0" stroke="#1c1c1c" stroke-width="1.0"/>
<text x="301.9" y="522.4" font-size="6.8" text-anchor="end" >0</text>
<line x1="303.0" y1="499.075" x2="305.5" y2="499.075" stroke="#1c1c1c" stroke-width="1.0"/>
<text x="301.9" y="501.47499999999997" font-size="6.8" text-anchor="end" >5</text>
<line x1="303.0" y1="478.15" x2="305.5" y2="478.15" stroke="#1c1c1c" stroke-width="1.0"/>
<text x="301.9" y="480.54999999999995" font-size="6.8" text-anchor="end" >10</text>
<line x1="303.0" y1="457.225" x2="305.5" y2="457.225" stroke="#1c1c1c" stroke-width="1.0"/>
<text x="301.9" y="459.625" font-size="6.8" text-anchor="end" >15</text>
<line x1="303.0" y1="436.3" x2="305.5" y2="436.3" stroke="#1c1c1c" stroke-width="1.0"/>
<text x="301.9" y="438.7" font-size="6.8" text-anchor="end" >20</text>
<line x1="303.0" y1="415.375" x2="305.5" y2="415.375" stroke="#1c1c1c" stroke-width="1.0"/>
<text x="301.9" y="417.775" font-size="6.8" text-anchor="end" >25</text>
<text transform="translate(284.4,466) rotate(-90)" font-size="6.6" text-anchor="middle">Picrosirius red positive area</text>
<text transform="translate(291.6,466.8) rotate(-90)" font-size="6.6" text-anchor="middle">(% of field of view)</text>
<line x1="331.8" y1="520" x2="331.8" y2="522.5" stroke="#1c1c1c" stroke-width="0.8"/>
<line x1="384.3" y1="520" x2="384.3" y2="522.5" stroke="#1c1c1c" stroke-width="0.8"/>
<line x1="436.6" y1="520" x2="436.6" y2="522.5" stroke="#1c1c1c" stroke-width="0.8"/>
<line x1="489" y1="520" x2="489" y2="522.5" stroke="#1c1c1c" stroke-width="0.8"/>
<line x1="314.40000000000003" y1="472.5" x2="349.2" y2="472.5" stroke="#1c1c1c" stroke-width="0.9"/>
<line x1="331.8" y1="465.5" x2="331.8" y2="480" stroke="#1c1c1c" stroke-width="0.8"/>
<line x1="323.0" y1="465.5" x2="340.6" y2="465.5" stroke="#1c1c1c" stroke-width="0.8"/>
<line x1="323.0" y1="480" x2="340.6" y2="480" stroke="#1c1c1c" stroke-width="0.8"/>
<line x1="367.0" y1="495.8" x2="401.6" y2="495.8" stroke="#1c1c1c" stroke-width="0.9"/>
<line x1="384.3" y1="489.9" x2="384.3" y2="501.3" stroke="#1c1c1c" stroke-width="0.8"/>
<line x1="376.0" y1="489.9" x2="392.6" y2="489.9" stroke="#1c1c1c" stroke-width="0.8"/>
<line x1="376.0" y1="501.3" x2="392.6" y2="501.3" stroke="#1c1c1c" stroke-width="0.8"/>
<line x1="419.3" y1="490.2" x2="453.90000000000003" y2="490.2" stroke="#1c1c1c" stroke-width="0.9"/>
<line x1="436.6" y1="485.3" x2="436.6" y2="495" stroke="#1c1c1c" stroke-width="0.8"/>
<line x1="428.40000000000003" y1="485.3" x2="444.8" y2="485.3" stroke="#1c1c1c" stroke-width="0.8"/>
<line x1="428.40000000000003" y1="495" x2="444.8" y2="495" stroke="#1c1c1c" stroke-width="0.8"/>
<line x1="471.7" y1="500" x2="506.3" y2="500" stroke="#1c1c1c" stroke-width="0.9"/>
<line x1="489" y1="495.8" x2="489" y2="504" stroke="#1c1c1c" stroke-width="0.8"/>
<line x1="480.9" y1="495.8" x2="497.1" y2="495.8" stroke="#1c1c1c" stroke-width="0.8"/>
<line x1="480.9" y1="504" x2="497.1" y2="504" stroke="#1c1c1c" stroke-width="0.8"/>
<circle cx="331.8" cy="427" r="2.0" fill="#000"/>
<circle cx="331.8" cy="452.5" r="2.0" fill="#000"/>
<circle cx="328.8" cy="457.5" r="2.0" fill="#000"/>
<circle cx="335.0" cy="457.5" r="2.0" fill="#000"/>
<circle cx="331.8" cy="463.7" r="2.0" fill="#000"/>
<circle cx="331.8" cy="474.5" r="2.0" fill="#000"/>
<circle cx="328.8" cy="478.7" r="2.0" fill="#000"/>
<circle cx="335.0" cy="481.2" r="2.0" fill="#000"/>
<circle cx="331.8" cy="490.5" r="2.0" fill="#000"/>
<circle cx="331.8" cy="501.7" r="2.0" fill="#000"/>
<circle cx="331.8" cy="514.2" r="2.0" fill="#000"/>
<polygon points="384.3,455.205 386.295,458.815 382.305,458.815" fill="#000"/>
<polygon points="384.3,478.405 386.295,482.015 382.305,482.015" fill="#000"/>
<polygon points="381.6,483.005 383.595,486.615 379.605,486.615" fill="#000"/>
<polygon points="387.0,483.005 388.995,486.615 385.005,486.615" fill="#000"/>
<polygon points="384.3,489.505 386.295,493.115 382.305,493.115" fill="#000"/>
<polygon points="384.3,499.305 386.295,502.915 382.305,502.915" fill="#000"/>
<polygon points="384.3,505.205 386.295,508.815 382.305,508.815" fill="#000"/>
<polygon points="384.3,509.505 386.295,513.115 382.305,513.115" fill="#000"/>
<polygon points="381.6,514.405 383.595,518.015 379.605,518.015" fill="#000"/>
<polygon points="387.0,513.405 388.995,517.015 385.005,517.015" fill="#000"/>
<circle cx="433.8" cy="474.7" r="1.9" fill="none" stroke="#222" stroke-width="0.7"/>
<circle cx="439.20000000000005" cy="474.2" r="1.9" fill="none" stroke="#222" stroke-width="0.7"/>
<circle cx="436.6" cy="477.2" r="1.9" fill="none" stroke="#222" stroke-width="0.7"/>
<circle cx="436.6" cy="486" r="1.9" fill="none" stroke="#222" stroke-width="0.7"/>
<circle cx="439.20000000000005" cy="490.9" r="1.9" fill="none" stroke="#222" stroke-width="0.7"/>
<circle cx="433.8" cy="493.5" r="1.9" fill="none" stroke="#222" stroke-width="0.7"/>
<circle cx="436.6" cy="494.5" r="1.9" fill="none" stroke="#222" stroke-width="0.7"/>
<circle cx="436.6" cy="500.7" r="1.9" fill="none" stroke="#222" stroke-width="0.7"/>
<circle cx="436.6" cy="506.5" r="1.9" fill="none" stroke="#222" stroke-width="0.7"/>
<circle cx="436.6" cy="516.4" r="1.9" fill="none" stroke="#222" stroke-width="0.7"/>
<polygon points="489,477.405 490.995,481.015 487.005,481.015" fill="none" stroke="#222" stroke-width="0.7"/>
<polygon points="489,481.705 490.995,485.315 487.005,485.315" fill="none" stroke="#222" stroke-width="0.7"/>
<polygon points="483.5,492.005 485.495,495.615 481.505,495.615" fill="none" stroke="#222" stroke-width="0.7"/>
<polygon points="489,496.005 490.995,499.615 487.005,499.615" fill="none" stroke="#222" stroke-width="0.7"/>
<polygon points="489,502.005 490.995,505.615 487.005,505.615" fill="none" stroke="#222" stroke-width="0.7"/>
<polygon points="494.3,506.005 496.295,509.615 492.305,509.615" fill="none" stroke="#222" stroke-width="0.7"/>
<polygon points="489,507.805 490.995,511.415 487.005,511.415" fill="none" stroke="#222" stroke-width="0.7"/>
<polygon points="483.5,510.005 485.495,513.615 481.505,513.615" fill="none" stroke="#222" stroke-width="0.7"/>
<polygon points="494.3,510.005 496.295,513.615 492.305,513.615" fill="none" stroke="#222" stroke-width="0.7"/>
<text x="331.7" y="530" font-size="6.1" text-anchor="middle" >MiaPaCa2<tspan font-size="4.3" dy="1.5" letter-spacing="0.18">ctl-shRNA</tspan></text>
<text x="332.3" y="536.3" font-size="6.1" text-anchor="middle" >CAF<tspan font-size="4.3" dy="1.5" letter-spacing="0.18">ctl-shRNA</tspan></text>
<text x="384" y="530" font-size="6.1" text-anchor="middle" >MiaPaCa2<tspan font-size="4.3" dy="1.5" letter-spacing="0.18">ctl-shRNA</tspan></text>
<text x="384.6" y="536.3" font-size="6.1" text-anchor="middle" >CAF<tspan font-size="4.3" dy="1.5" letter-spacing="0.18">slc-shRNA</tspan></text>
<text x="436.6" y="530" font-size="6.1" text-anchor="middle" >MiaPaCa2<tspan font-size="4.3" dy="1.5" letter-spacing="0.18">slc-shRNA</tspan></text>
<text x="437.20000000000005" y="536.3" font-size="6.1" text-anchor="middle" >CAF<tspan font-size="4.3" dy="1.5" letter-spacing="0.18">ctl-shRNA</tspan></text>
<text x="489" y="530" font-size="6.1" text-anchor="middle" >MiaPaCa2<tspan font-size="4.3" dy="1.5" letter-spacing="0.18">slc-shRNA</tspan></text>
<text x="489.6" y="536.3" font-size="6.1" text-anchor="middle" >CAF<tspan font-size="4.3" dy="1.5" letter-spacing="0.18">slc-shRNA</tspan></text>
<line x1="332.5" y1="379.3" x2="490.4" y2="379.3" stroke="#1c1c1c" stroke-width="1.0"/>
<text x="401" y="376.3" font-size="6.7" text-anchor="middle" >**<tspan font-style="italic">P</tspan> = 0.01</text>
<line x1="332.5" y1="392.5" x2="434.4" y2="392.5" stroke="#1c1c1c" stroke-width="1.0"/>
<text x="381.8" y="388.8" font-size="6.7" text-anchor="middle" ><tspan font-style="italic">P</tspan> = 0.17</text>
<line x1="332.5" y1="405.8" x2="383.8" y2="405.8" stroke="#1c1c1c" stroke-width="1.0"/>
<text x="357" y="402.6" font-size="6.7" text-anchor="middle" >*<tspan font-style="italic">P</tspan> = 0.02</text>
<line x1="390.8" y1="405.8" x2="434.4" y2="405.8" stroke="#1c1c1c" stroke-width="1.0"/>
<text x="411.5" y="402.2" font-size="6.7" text-anchor="middle" ><tspan font-style="italic">P</tspan> = 0.32</text>
<line x1="390.8" y1="425" x2="490.4" y2="425" stroke="#1c1c1c" stroke-width="1.0"/>
<text x="438.4" y="421.2" font-size="6.7" text-anchor="middle" ><tspan font-style="italic">P</tspan> = 0.76</text>
<line x1="439.2" y1="438.5" x2="490.4" y2="438.5" stroke="#1c1c1c" stroke-width="1.0"/>
<text x="467" y="435.6" font-size="6.7" text-anchor="middle" ><tspan font-style="italic">P</tspan> = 0.20</text>
</svg></body></html>
